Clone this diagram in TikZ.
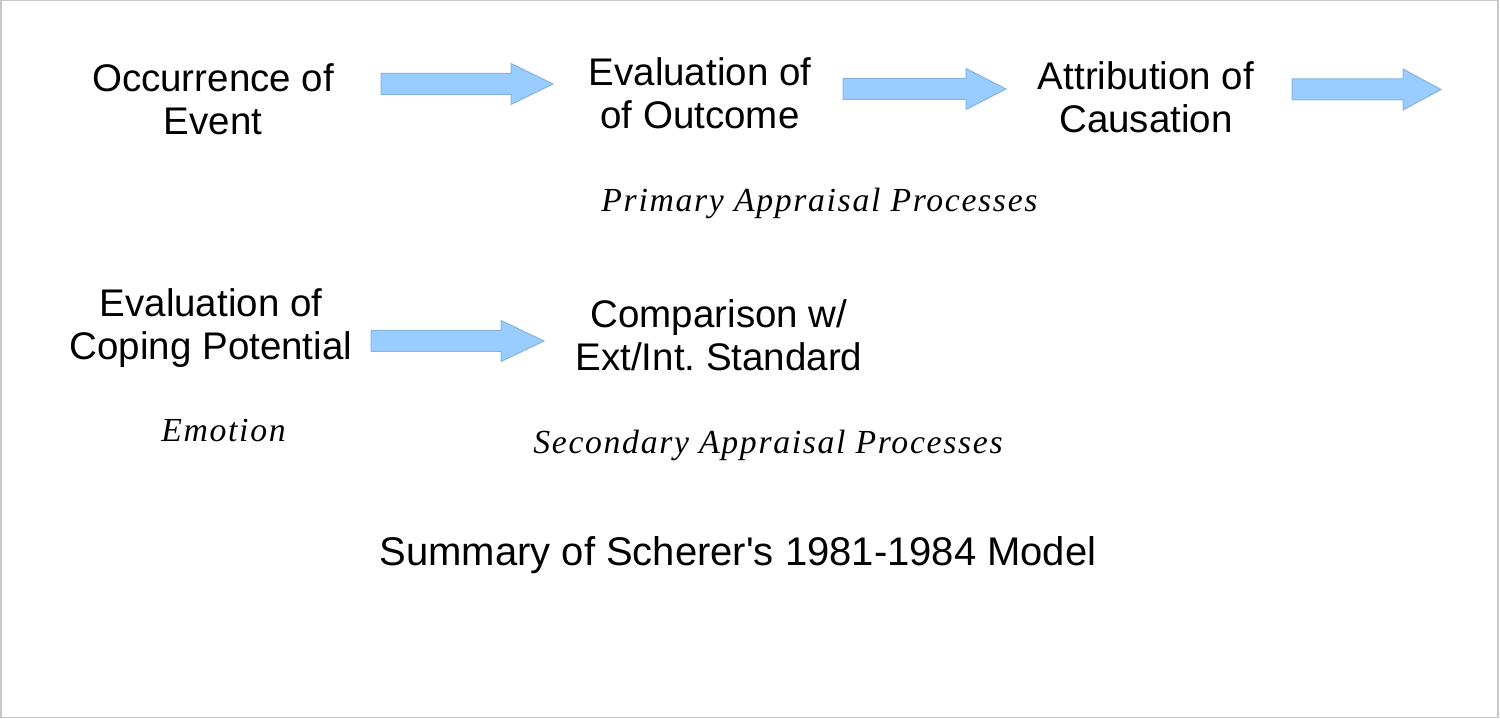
\documentclass[tikz,border=0pt]{standalone}
\usepackage{fontspec}
\setmainfont{Liberation Sans}
\newfontfamily\serifit[LetterSpace=5]{Liberation Serif}
\frenchspacing
\definecolor{arrowfill}{HTML}{99CCFF}
\definecolor{arrowline}{HTML}{86B4E0}
\definecolor{frame}{HTML}{C8C8C8}
\newcommand{\blockarrow}[4]{%
  \draw[barrow] (#1,#4-10.5) -- (#2,#4-10.5) -- (#2,#4-20.5) -- (#3,#4)
    -- (#2,#4+20.5) -- (#2,#4+10.5) -- (#1,#4+10.5) -- cycle;}
\begin{document}
\begin{tikzpicture}[x=1pt,y=-1pt,
  barrow/.style={fill=arrowfill,draw=arrowline,line width=1pt,line join=miter},
  label/.style={inner sep=0pt,align=center,font=\fontsize{38.5}{43}\selectfont},
  note/.style={inner sep=0pt,font=\fontsize{33.7}{38}\selectfont\serifit\itshape},
  title/.style={inner sep=0pt,font=\fontsize{40}{46}\selectfont}]
\useasboundingbox (0,0) rectangle (1500,719);
\draw[frame,line width=1.5pt] (0.75,0.75) rectangle (1498,717.5);
% row 1
\node[label] (occ) at (213,99.5) {Occurrence of\\Event};
\node[label] (evo) at (700,93) {Evaluation of\\of Outcome};
\node[label] (att) at (1146,97) {Attribution of\\Causation};
\blockarrow{381}{511}{553}{84}
\blockarrow{843}{966}{1006}{89}
\blockarrow{1292}{1403}{1441}{89.5}
\node[note] (prim) at (819.5,203) {Primary Appraisal Processes};
% row 2
\node[label] (ecp) at (211,328) {Evaluation of\\Coping Potential};
\node[label] (cmp) at (719,335) {Comparison w/\\Ext/Int. Standard};
\blockarrow{371}{501}{544}{341}
\node[note] (emo) at (223.5,431) {Emotion};
\node[note] (sec) at (768,445) {Secondary Appraisal Processes};
% title
\node[title] (ttl) at (738,555) {Summary of Scherer\textquotesingle s 1981-1984 Model};
\end{tikzpicture}
\end{document}
